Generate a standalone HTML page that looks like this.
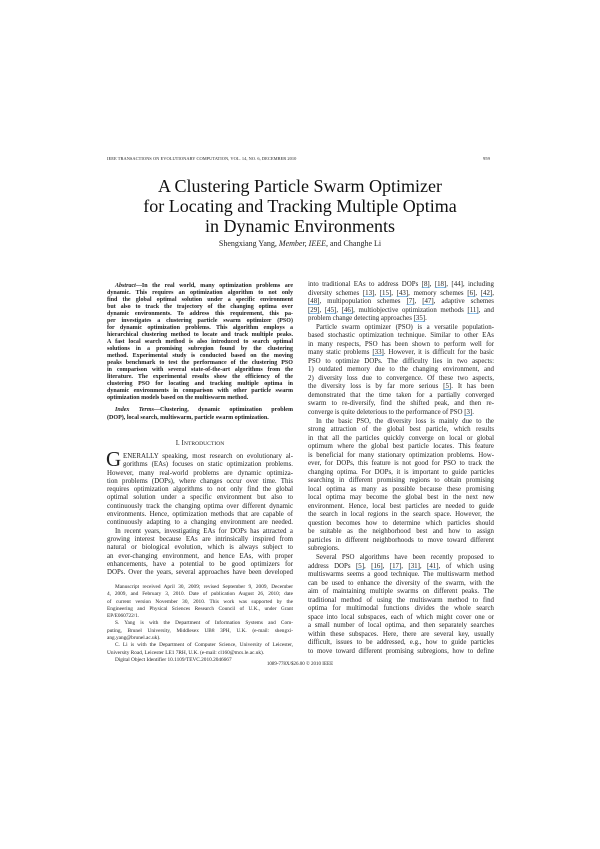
<!DOCTYPE html>
<html><head><meta charset="utf-8"><style>
body{margin:0;background:#fff;}
#p{position:relative;width:600px;height:849px;background:#fff;font-family:"Liberation Serif",serif;color:#222;overflow:hidden}
.a{position:absolute}
.col{position:absolute;width:186px}
.col div{text-align:justify;text-align-last:justify;white-space:normal;height:inherit;overflow:visible}
.col div.e{text-align-last:left}
.col div.i{text-indent:8px}
.r{text-decoration:underline;text-decoration-color:#8ec5f0}
.t{font-size:18px;text-align:center;width:600px;left:0;color:#111}
</style></head><body><div id="p">
<div class="a" style="left:107px;top:156px;font-size:4.4px;letter-spacing:.05px">IEEE TRANSACTIONS ON EVOLUTIONARY COMPUTATION, VOL. 14, NO. 6, DECEMBER 2010</div>
<div class="a" style="left:483px;top:156px;font-size:4.6px">959</div>
<div class="a t" style="top:176px">A Clustering Particle Swarm Optimizer</div>
<div class="a t" style="top:196px">for Locating and Tracking Multiple Optima</div>
<div class="a t" style="top:216px">in Dynamic Environments</div>
<div class="a" style="left:0;width:600px;text-align:center;top:239px;font-size:8px">Shengxiang Yang, <i>Member, IEEE,</i> and Changhe Li</div>

<div class="col" style="left:107px;top:283px;font-size:6.05px;line-height:7px;font-weight:bold">
<div class="i"><i>Abstract</i>—In the real world, many optimization problems are</div>
<div>dynamic. This requires an optimization algorithm to not only</div>
<div>find the global optimal solution under a specific environment</div>
<div>but also to track the trajectory of the changing optima over</div>
<div>dynamic environments. To address this requirement, this pa-</div>
<div>per investigates a clustering particle swarm optimizer (PSO)</div>
<div>for dynamic optimization problems. This algorithm employs a</div>
<div>hierarchical clustering method to locate and track multiple peaks.</div>
<div>A fast local search method is also introduced to search optimal</div>
<div>solutions in a promising subregion found by the clustering</div>
<div>method. Experimental study is conducted based on the moving</div>
<div>peaks benchmark to test the performance of the clustering PSO</div>
<div>in comparison with several state-of-the-art algorithms from the</div>
<div>literature. The experimental results show the efficiency of the</div>
<div>clustering PSO for locating and tracking multiple optima in</div>
<div>dynamic environments in comparison with other particle swarm</div>
<div class="e">optimization models based on the multiswarm method.</div>
</div>
<div class="col" style="left:107px;top:406px;font-size:6.05px;line-height:8px;font-weight:bold">
<div class="i"><i>Index Terms</i>—Clustering, dynamic optimization problem</div>
<div class="e">(DOP), local search, multiswarm, particle swarm optimization.</div>
</div>
<div class="a" style="left:107px;width:186px;text-align:center;top:439px;font-size:7px">I. I<span style="font-size:5.6px">NTRODUCTION</span></div>
<div class="a" style="left:106px;top:449px;font-size:21px;line-height:21px">G</div>
<div class="col" style="left:107px;top:453px;font-size:6.9px;line-height:8.3px">
<div style="padding-left:16px">ENERALLY speaking, most research on evolutionary al-</div>
<div style="padding-left:16px">gorithms (EAs) focuses on static optimization problems.</div>
<div>However, many real-world problems are dynamic optimiza-</div>
<div>tion problems (DOPs), where changes occur over time. This</div>
<div>requires optimization algorithms to not only find the global</div>
<div>optimal solution under a specific environment but also to</div>
<div>continuously track the changing optima over different dynamic</div>
<div>environments. Hence, optimization methods that are capable of</div>
<div>continuously adapting to a changing environment are needed.</div>
<div class="i">In recent years, investigating EAs for DOPs has attracted a</div>
<div>growing interest because EAs are intrinsically inspired from</div>
<div>natural or biological evolution, which is always subject to</div>
<div>an ever-changing environment, and hence EAs, with proper</div>
<div>enhancements, have a potential to be good optimizers for</div>
<div>DOPs. Over the years, several approaches have been developed</div>
</div>
<div class="col" style="left:107px;top:584px;font-size:5.3px;line-height:7.3px">
<div class="i">Manuscript received April 30, 2009; revised September 9, 2009, December</div>
<div>4, 2009, and February 3, 2010. Date of publication August 26, 2010; date</div>
<div>of current version November 30, 2010. This work was supported by the</div>
<div>Engineering and Physical Sciences Research Council of U.K., under Grant</div>
<div class="e">EP/E060722/1.</div>
<div class="i">S. Yang is with the Department of Information Systems and Com-</div>
<div>puting, Brunel University, Middlesex UB8 3PH, U.K. (e-mail: shengxi-</div>
<div class="e">ang.yang@brunel.ac.uk).</div>
<div class="i">C. Li is with the Department of Computer Science, University of Leicester,</div>
<div class="e">University Road, Leicester LE1 7RH, U.K. (e-mail: cl160@mcs.le.ac.uk).</div>
<div class="e i">Digital Object Identifier 10.1109/TEVC.2010.2046667</div>
</div>

<div class="col" style="left:308px;top:281px;font-size:6.9px;line-height:8.53px">
<div>into traditional EAs to address DOPs <span class="r">[8]</span>, <span class="r">[18]</span>, [44], including</div>
<div>diversity schemes <span class="r">[13]</span>, <span class="r">[15]</span>, <span class="r">[43]</span>, memory schemes <span class="r">[6]</span>, <span class="r">[42]</span>,</div>
<div><span class="r">[48]</span>, multipopulation schemes <span class="r">[7]</span>, <span class="r">[47]</span>, adaptive schemes</div>
<div><span class="r">[29]</span>, <span class="r">[45]</span>, <span class="r">[46]</span>, multiobjective optimization methods <span class="r">[11]</span>, and</div>
<div class="e">problem change detecting approaches <span class="r">[35]</span>.</div>
<div class="i">Particle swarm optimizer (PSO) is a versatile population-</div>
<div>based stochastic optimization technique. Similar to other EAs</div>
<div>in many respects, PSO has been shown to perform well for</div>
<div>many static problems <span class="r">[33]</span>. However, it is difficult for the basic</div>
<div>PSO to optimize DOPs. The difficulty lies in two aspects:</div>
<div>1) outdated memory due to the changing environment, and</div>
<div>2) diversity loss due to convergence. Of these two aspects,</div>
<div>the diversity loss is by far more serious <span class="r">[5]</span>. It has been</div>
<div>demonstrated that the time taken for a partially converged</div>
<div>swarm to re-diversify, find the shifted peak, and then re-</div>
<div class="e">converge is quite deleterious to the performance of PSO <span class="r">[3]</span>.</div>
<div class="i">In the basic PSO, the diversity loss is mainly due to the</div>
<div>strong attraction of the global best particle, which results</div>
<div>in that all the particles quickly converge on local or global</div>
<div>optimum where the global best particle locates. This feature</div>
<div>is beneficial for many stationary optimization problems. How-</div>
<div>ever, for DOPs, this feature is not good for PSO to track the</div>
<div>changing optima. For DOPs, it is important to guide particles</div>
<div>searching in different promising regions to obtain promising</div>
<div>local optima as many as possible because these promising</div>
<div>local optima may become the global best in the next new</div>
<div>environment. Hence, local best particles are needed to guide</div>
<div>the search in local regions in the search space. However, the</div>
<div>question becomes how to determine which particles should</div>
<div>be suitable as the neighborhood best and how to assign</div>
<div>particles in different neighborhoods to move toward different</div>
<div class="e">subregions.</div>
<div class="i">Several PSO algorithms have been recently proposed to</div>
<div>address DOPs <span class="r">[5]</span>, <span class="r">[16]</span>, <span class="r">[17]</span>, <span class="r">[31]</span>, <span class="r">[41]</span>, of which using</div>
<div>multiswarms seems a good technique. The multiswarm method</div>
<div>can be used to enhance the diversity of the swarm, with the</div>
<div>aim of maintaining multiple swarms on different peaks. The</div>
<div>traditional method of using the multiswarm method to find</div>
<div>optima for multimodal functions divides the whole search</div>
<div>space into local subspaces, each of which might cover one or</div>
<div>a small number of local optima, and then separately searches</div>
<div>within these subspaces. Here, there are several key, usually</div>
<div>difficult, issues to be addressed, e.g., how to guide particles</div>
<div>to move toward different promising subregions, how to define</div>
</div>
<div class="a" style="left:0;width:600px;text-align:center;top:662px;font-size:5px">1089-778X/$26.00 © 2010 IEEE</div>
</div></body></html>
